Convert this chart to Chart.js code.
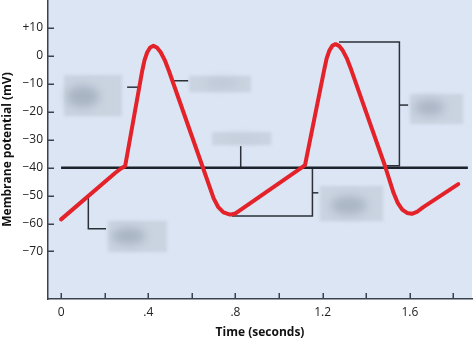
<!DOCTYPE html>
<html>
<head>
<meta charset="utf-8">
<script src="https://cdn.jsdelivr.net/npm/chart.js@4.4.1/dist/chart.umd.min.js"></script>
<style>
  html, body { margin: 0; padding: 0; background: #fff; }
  #wrap { width: 474px; height: 342px; }
</style>
</head>
<body>
<div id="wrap"><canvas id="ap"></canvas></div>
<script>
// two action potentials, membrane potential (mV) against time (s)
const timeSec = [
  0, 0.248, 0.275, 0.294,
  0.3718, 0.3829, 0.3952, 0.4086, 0.4236, 0.4396, 0.4569, 0.4755, 0.4953,
  0.648, 0.70, 0.72, 0.745, 0.775, 0.80, 0.825,
  1.10, 1.119,
  1.2072, 1.2183, 1.2306, 1.244, 1.259, 1.275, 1.2923, 1.3109, 1.3307,
  1.486, 1.525, 1.545, 1.565, 1.587, 1.609, 1.635, 1.66,
  1.822
];
const potential = [
  -58.5, -41.9, -40.3, -39.4,
  -5.5, -1.5, 1.3, 3.0, 3.6, 3.0, 1.3, -1.5, -5.5,
  -39.4, -51.0, -54.0, -56.0, -56.8, -56.4, -55.0,
  -40.2, -39.1,
  -4.9, -0.9, 1.9, 3.6, 4.2, 3.6, 1.9, -0.9, -4.9,
  -39.4, -49.0, -52.7, -55.0, -56.2, -56.5, -55.7, -54.2,
  -45.9
];

const threshold = -40;

const xTicks = [0, 0.2, 0.4, 0.6, 0.8, 1.0, 1.2, 1.4, 1.6, 1.8];
const xTickLabels = { '0': '0', '0.4': '.4', '0.8': '.8', '1.2': '1.2', '1.6': '1.6' };
const yTicks = [10, 0, -10, -20, -30, -40, -50, -60, -70];

// empty label boxes (blurred), in data units
const labelBoxes = [
  { x0: 0.009, x1: 0.284, y0: -6.5, y1: -21.9, bx: 0.10, by: -14.5, dark: 0.8 },
  { x0: 0.583, x1: 0.876, y0: -6.8, y1: -13.3, bx: 0.74, by: -9.8, dark: 0.3 },
  { x0: 0.688, x1: 0.968, y0: -26.9, y1: -32.3, bx: 0.83, by: -29.5, dark: 0.15 },
  { x0: 1.596, x1: 1.849, y0: -13.3, y1: -24.7, bx: 1.69, by: -18.5, dark: 0.75 },
  { x0: 1.183, x1: 1.482, y0: -46.2, y1: -59.5, bx: 1.32, by: -53.5, dark: 0.75 },
  { x0: 0.211, x1: 0.491, y0: -58.7, y1: -70.6, bx: 0.31, by: -64.5, dark: 0.8 },
];

// leader lines from the boxes to the trace
const leaders = [
  [[0.303, -11.2], [0.358, -11.2]],
  [[0.514, -8.9], [0.583, -8.9]],
  [[0.824, -32.3], [0.824, -40]],
  [[1.275, 5.0], [1.552, 5.0], [1.552, -39.3], [1.494, -39.3]],
  [[1.552, -17.6], [1.592, -17.6]],
  [[1.12, -40.2], [1.153, -40.2], [1.153, -57.3], [0.783, -57.3]],
  [[1.153, -49.0], [1.18, -49.0]],
  [[0.125, -50.4], [0.125, -61.9], [0.206, -61.9]],
];

const plotBg = '#dbe5f3';
const axisColor = '#3a4250';

Chart.defaults.font.family = "'Open Sans', sans-serif";
Chart.defaults.color = '#222';

const backdrop = {
  id: 'backdrop',
  beforeDraw(chart) {
    const { ctx, chartArea: a } = chart;
    ctx.save();
    ctx.fillStyle = plotBg;
    ctx.fillRect(a.left, a.top, a.right - a.left, a.bottom - a.top);
    ctx.restore();
  }
};

const annotations = {
  id: 'annotations',
  beforeDatasetsDraw(chart) {
    const { ctx, scales: { x, y } } = chart;
    ctx.save();
    labelBoxes.forEach(b => {
      const l = x.getPixelForValue(b.x0), r = x.getPixelForValue(b.x1);
      const t = y.getPixelForValue(b.y0), btm = y.getPixelForValue(b.y1);
      ctx.filter = 'blur(1.5px)';
      ctx.fillStyle = 'rgba(196,206,219,0.75)';
      ctx.fillRect(l + 1, t + 1, r - l - 2, btm - t - 2);
      ctx.filter = 'blur(5px)';
      ctx.fillStyle = `rgba(160,171,188,${b.dark})`;
      const cx = x.getPixelForValue(b.bx), cy = y.getPixelForValue(b.by);
      const w = (r - l) * 0.55, h = (btm - t) * 0.5;
      ctx.beginPath();
      ctx.ellipse(cx, cy, w / 2, h / 2, 0, 0, Math.PI * 2);
      ctx.fill();
    });
    ctx.filter = 'none';

    ctx.strokeStyle = '#2b3039';
    ctx.lineWidth = 1.5;
    leaders.forEach(pts => {
      ctx.beginPath();
      pts.forEach(([vx, vy], i) => {
        const px = x.getPixelForValue(vx), py = y.getPixelForValue(vy);
        i ? ctx.lineTo(px, py) : ctx.moveTo(px, py);
      });
      ctx.stroke();
    });

    // threshold
    ctx.strokeStyle = '#1c222b';
    ctx.lineWidth = 2.5;
    ctx.beginPath();
    ctx.moveTo(x.getPixelForValue(0), y.getPixelForValue(threshold));
    ctx.lineTo(x.getPixelForValue(1.866), y.getPixelForValue(threshold));
    ctx.stroke();
    ctx.restore();
  }
};

// tick marks point into the plot
const innerTicks = {
  id: 'innerTicks',
  afterDraw(chart) {
    const { ctx, chartArea: a, scales: { x, y } } = chart;
    ctx.save();
    ctx.strokeStyle = axisColor;
    ctx.lineWidth = 1.5;
    ctx.beginPath();
    xTicks.forEach(v => {
      const px = Math.round(x.getPixelForValue(v)) + 0.25;
      ctx.moveTo(px, a.bottom);
      ctx.lineTo(px, a.bottom - 6);
    });
    yTicks.forEach(v => {
      const py = Math.round(y.getPixelForValue(v)) + 0.25;
      ctx.moveTo(a.left, py);
      ctx.lineTo(a.left + 6, py);
    });
    ctx.stroke();
    ctx.restore();
  }
};

new Chart(document.getElementById('ap'), {
  type: 'line',
  data: {
    datasets: [{
      data: timeSec.map((t, i) => ({ x: t, y: potential[i] })),
      borderColor: '#e3222a',
      borderWidth: 4,
      borderCapStyle: 'round',
      borderJoinStyle: 'round',
      tension: 0,
      pointRadius: 0,
      fill: false,
    }]
  },
  options: {
    responsive: true,
    maintainAspectRatio: false,
    animation: false,
    layout: { padding: { top: 0, right: 2, left: 0, bottom: 0 } },
    plugins: { legend: { display: false }, tooltip: { enabled: false } },
    scales: {
      x: {
        type: 'linear',
        min: -0.06,
        max: 1.885,
        afterBuildTicks: s => { s.ticks = xTicks.map(v => ({ value: v })); },
        afterFit: s => { s.height = 43; s.paddingLeft = 0; s.paddingRight = 0; },
        grid: { drawOnChartArea: false, drawTicks: false },
        border: { display: true, color: axisColor, width: 1.5 },
        ticks: {
          autoSkip: false,
          maxRotation: 0,
          padding: 6,
          font: { size: 12 },
          color: '#222',
          callback: v => xTickLabels[String(Math.round(v * 10) / 10)] || ''
        },
        title: {
          display: true,
          text: 'Time (seconds)',
          font: { size: 12, weight: 'bold' },
          color: '#111',
          padding: { top: 0, bottom: 2 }
        }
      },
      y: {
        min: -87,
        max: 20,
        afterBuildTicks: s => { s.ticks = yTicks.map(v => ({ value: v })); },
        afterFit: s => { s.width = 48; s.paddingTop = 0; s.paddingBottom = 0; },
        grid: { drawOnChartArea: false, drawTicks: false },
        border: { display: true, color: axisColor, width: 1.5 },
        ticks: {
          padding: 5,
          font: { size: 12 },
          color: '#222',
          callback: v => v > 0 ? '+' + v : v < 0 ? '\u2212' + Math.abs(v) : '0'
        },
        title: {
          display: true,
          text: 'Membrane potential (mV)',
          font: { size: 12, weight: 'bold' },
          color: '#111',
          padding: 0
        }
      }
    }
  },
  plugins: [backdrop, annotations, innerTicks]
});
</script>
</body>
</html>
